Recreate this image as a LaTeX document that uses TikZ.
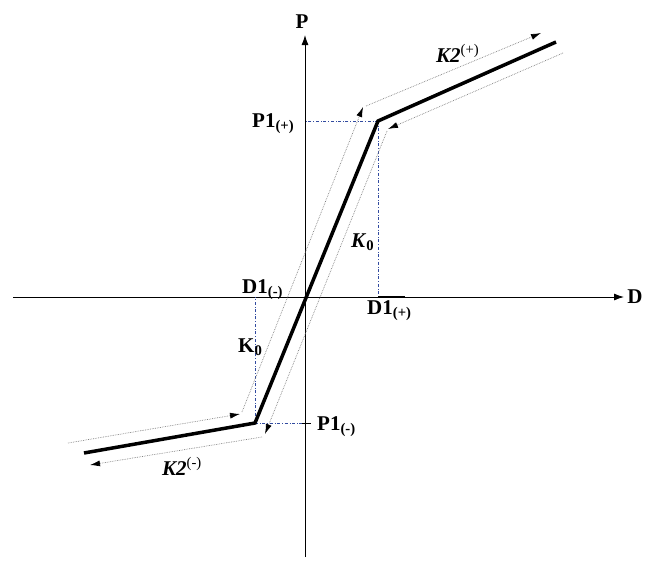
\documentclass[tikz,border=0pt]{standalone}
\usepackage{fontspec}
\setmainfont{Liberation Serif}
\usetikzlibrary{arrows.meta}
\definecolor{guideblue}{RGB}{50,75,160}

\begin{document}
\begin{tikzpicture}[x=1pt, y=-1pt,
		axis/.style={line width=0.9pt, -{Latex[length=10pt, width=7pt]}},
		track/.style={gray, densely dotted, line width=0.7pt, -{Latex[black, length=10pt, width=6pt]}},
		guide/.style={guideblue, dash dot, line width=0.8pt}]
	\useasboundingbox (0,0) rectangle (659,563);
	\tikzstyle{every node}=[font=\fontsize{21}{23}\selectfont\bfseries, inner sep=0pt]
		\coordinate (dl) at (13,297);
		\coordinate (dr) at (624,297);
		\coordinate (pb) at (305,557);
		\coordinate (pt) at (305,35);
		\node (D) at (635,297) {D};
		\node (P) at (302,22) {P};
		
		\coordinate (kn) at (84,453);
		\coordinate (cn) at (255,423);
		\coordinate (cp) at (378,121);
		\coordinate (kp) at (556,42);
		\coordinate (p1p) at (305,121);
		\coordinate (d1p) at (378,297);
		\coordinate (d1n) at (255,297);
		\coordinate (p1n) at (305,423);
		
		\coordinate (a1) at (68,443);
		\coordinate (a2) at (240,414);
		\coordinate (a3) at (242,412);
		\coordinate (a4) at (363,107);
		\coordinate (a5) at (366,106);
		\coordinate (a6) at (541,33);
		\coordinate (b1) at (563,53);
		\coordinate (b2) at (388,129);
		\coordinate (b3) at (387,131);
		\coordinate (b4) at (265,434);
		\coordinate (b5) at (262,437);
		\coordinate (b6) at (90,465);
		
		\draw[axis] (dl) to (dr);
		\draw[axis] (pb) to (pt);
		\draw[guide] (cp) to (p1p);
		\draw[guide] (cp) to (d1p);
		\draw[guide] (cn) to (d1n);
		\draw[guide] (cn) to (p1n);
		\draw[line width=0.9pt] (302,423) -- (311,423);
		\draw[line width=1.8pt] (d1p) -- ++(27,0);
		\draw[line width=3.5pt] (kn) -- (cn) -- (cp) -- (kp);
		
		\draw[track] (a1) to (a2);
		\draw[track] (a3) to (a4);
		\draw[track] (a5) to (a6);
		\draw[track] (b1) to (b2);
		\draw[track] (b3) to (b4);
		\draw[track] (b5) to (b6);
		
		\node[anchor=base west] (P1p) at (252,127) {P1\textsubscript{(+)}};
		\node[anchor=base west] (P1n) at (317,430) {P1\textsubscript{(-)}};
		\node[anchor=base west] (D1p) at (367,314) {D1\textsubscript{(+)}};
		\node[anchor=base west] (D1n) at (242,293) {D1\textsubscript{(-)}};
		\node[anchor=base west] (K0p) at (351,247) {\textit{K}\textsubscript{0}};
		\node[anchor=base west] (K0n) at (238,352) {K\textsubscript{0}};
		\node[anchor=base west] (K2p) at (436,62) {\textit{K2}\textsuperscript{\mdseries(+)}};
		\node[anchor=base west] (K2n) at (162,475) {\textit{K2}\textsuperscript{\mdseries(-)}};
\end{tikzpicture}
\end{document}
